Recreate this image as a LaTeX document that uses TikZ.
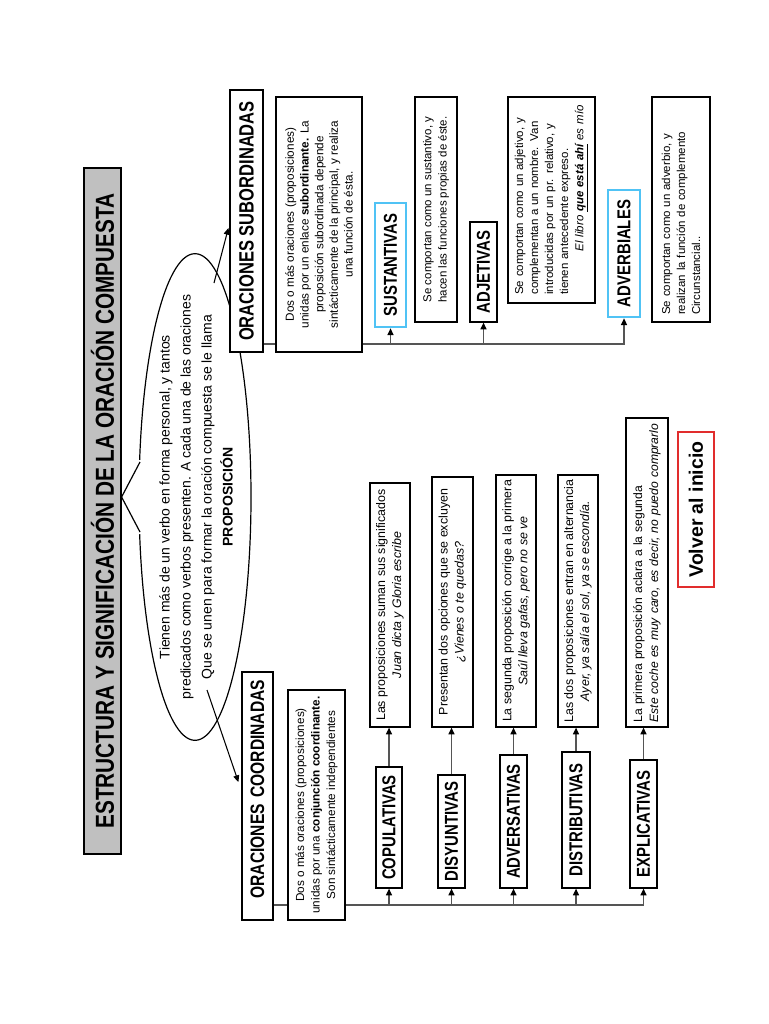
\documentclass[tikz,border=0pt]{standalone}
\usepackage{fontspec}
\setmainfont{Liberation Sans}
\newfontfamily\nar[FakeStretch=0.8]{Liberation Sans}
\usetikzlibrary{shapes.geometric,arrows.meta,calc}
\definecolor{cyanb}{RGB}{80,195,245}
\definecolor{redb}{RGB}{225,45,45}
\definecolor{titgray}{RGB}{192,192,192}
\definecolor{lineg}{RGB}{85,85,85}
\pgfdeclarelayer{bg}
\pgfsetlayers{bg,main}
\newcommand\mkbox[7]{%
 \pgfmathsetmacro\bxcx{(#2+#4)/2}%
 \pgfmathsetmacro\bxcy{(#3+#5)/2}%
 \pgfmathsetmacro\bxw{(#5-#3)*0.75}%
 \pgfmathsetmacro\bxh{(#4-#2)*0.75}%
 \node[#6, minimum width=\bxw pt, minimum height=\bxh pt] (#1) at (\bxcx,\bxcy) {#7};%
}
\begin{document}
\begin{tikzpicture}[x=0.75pt,y=-0.75pt,
 bx/.style={draw=black, line width=0.9pt, fill=white, rotate=90, inner sep=2pt},
 hdr/.style={bx, font=\nar\bfseries\fontsize{15.5}{18}\selectfont},
 typ/.style={bx, font=\nar\bfseries\fontsize{14}{16}\selectfont},
 cy/.style={draw=cyanb, line width=2pt},
 dsc/.style={bx, align=center, font=\fontsize{9.3}{12}\selectfont},
 sdsc/.style={bx, align=center, font=\fontsize{8.6}{11.3}\selectfont},
 ln/.style={draw=lineg, line width=1.1pt},
 tip/.style={-{Triangle[length=5pt,width=4.5pt,color=black]}},
 ar/.style={ln, tip}]
\useasboundingbox (0,0) rectangle (768,1024);

% title
\mkbox{title}{84}{168}{121}{854}{bx, fill=titgray, font=\nar\bfseries\fontsize{19.5}{22}\selectfont}{ESTRUCTURA Y SIGNIFICACIÓN DE LA ORACIÓN COMPUESTA}

% ellipse callout
\node[draw=black, line width=0.9pt, ellipse, rotate=90, minimum width=365pt, minimum height=84pt, inner sep=0pt] (ell) at (195,497) {};
\fill[white] (139,460) -- (122,497) -- (139,534) -- (147,534) -- (147,460) -- cycle;
\coordinate (pb1) at (140,462);
\coordinate (pb2) at (140,532);
\draw[line width=0.9pt] (pb1) -- (title.south |- ell) -- (pb2);
\node[rotate=90, align=center, font=\fontsize{10.5}{15.75}\selectfont] (ellt) at (196,497) {Tienen más de un verbo en forma personal, y tantos\\predicados como verbos presenten. A cada una de las oraciones\\Que se unen para formar la oración compuesta se le llama\\\textbf{PROPOSICIÓN}};

% headers
\mkbox{coordH}{242}{672}{273}{920}{bx, align=right, text width=174pt, font=\nar\bfseries\fontsize{14.6}{18}\selectfont}{ORACIONES COORDINADAS}
\mkbox{subH}{230}{90}{263}{352}{hdr}{ORACIONES SUBORDINADAS}

% descriptions of the two kinds
\mkbox{coordD}{288}{690}{345}{920}{dsc, font=\fontsize{8.8}{11.6}\selectfont}{Dos o más oraciones (proposiciones)\\unidas por una \textbf{conjunción coordinante.}\\Son sintácticamente independientes}
\mkbox{subD}{276}{97}{362}{352}{sdsc, font=\fontsize{8.8}{11}\selectfont}{Dos o más oraciones (proposiciones)\\unidas por un enlace \textbf{subordinante.} La\\proposición subordinada depende\\sintácticamente de la principal, y realiza\\una función de ésta.}

% coordinadas types
\mkbox{cop}{376}{767}{402}{888}{typ}{COPULATIVAS}
\mkbox{dis}{438}{775}{465}{888}{typ}{DISYUNTIVAS}
\mkbox{advs}{500}{755}{527}{888}{typ}{ADVERSATIVAS}
\mkbox{dist}{562}{752}{590}{888}{typ}{DISTRIBUTIVAS}
\mkbox{expl}{630}{760}{657}{888}{typ}{EXPLICATIVAS}

\mkbox{copD}{370}{483}{410}{727}{dsc}{Las proposiciones suman sus significados\\\textit{Juan dicta y Gloria escribe}}
\mkbox{disD}{432}{477}{473}{727}{dsc}{Presentan dos opciones que se excluyen\\\textit{¿Vienes o te quedas?}}
\mkbox{advsD}{496}{475}{536}{727}{dsc}{La segunda proposición corrige a la primera\\\textit{Saúl lleva gafas, pero no se ve}}
\mkbox{distD}{558}{475}{598}{727}{dsc}{Las dos proposiciones entran en alternancia\\\textit{Ayer, ya salía el sol, ya se escondía.}}
\mkbox{explD}{626}{418}{668}{727}{dsc, align=left, text width=225pt, font=\fontsize{9.1}{12}\selectfont}{La primera proposición aclara a la segunda\\\textit{Este coche es muy caro, es decir, no puedo comprarlo}}

% subordinadas types
\mkbox{sust}{375}{203}{406}{327}{typ, cy}{SUSTANTIVAS}
\mkbox{adj}{470}{222}{497}{322}{typ}{ADJETIVAS}
\mkbox{advb}{608}{190}{640}{317}{typ, cy}{ADVERBIALES}

\mkbox{sustD}{415}{97}{457}{322}{sdsc}{Se comportan como un sustantivo, y\\hacen las funciones propias de éste.}
\mkbox{adjD}{508}{97}{595}{303}{sdsc, align=left, text width=142pt}{Se comportan como un adjetivo, y\\complementan a un nombre. Van\\introducidas por un pr. relativo, y\\tienen antecedente expreso.\\\hspace*{0pt plus 1filll}\textit{El libro \underline{\textbf{que está ahí}} es mío}}
\mkbox{advbD}{652}{97}{710}{322}{sdsc, align=left, text width=158pt}{Se comportan como un adverbio, y\\realizan la función de complemento\\Circunstancial..}

% back link
\mkbox{volver}{678}{432}{714}{587}{bx, draw=redb, line width=0.8pt, font=\bfseries\fontsize{14.6}{17}\selectfont}{Volver al inicio}

% connectors
\coordinate (tc) at (0,905);
\coordinate (ts) at (0,344);
\coordinate (e1) at (207,690);
\coordinate (e2) at (214,283);
\begin{pgfonlayer}{bg}
\fill[white] (0,0) rectangle (768,1024);
\draw[ar] (coordH.south |- tc) -| (expl.west);
\foreach \n in {cop,dis,advs,dist}{\draw[ar] (\n.west |- tc) -- (\n.west);}
\foreach \n in {cop,dis,advs,dist,expl}{\draw[ar] (\n.east) -- (\n.east |- \n D.west);}
\draw[ar] (subH.south |- ts) -| (advb.west);
\foreach \n in {sust,adj}{\draw[ar] (\n.west |- ts) -- (\n.west);}
\end{pgfonlayer}
\draw[tip, line width=0.8pt] (e1) -- ($(coordH.north)+(-3,-14)$);
\draw[tip, line width=0.8pt] (e2) -- ($(subH.north)+(-1,7)$);
\end{tikzpicture}
\end{document}
